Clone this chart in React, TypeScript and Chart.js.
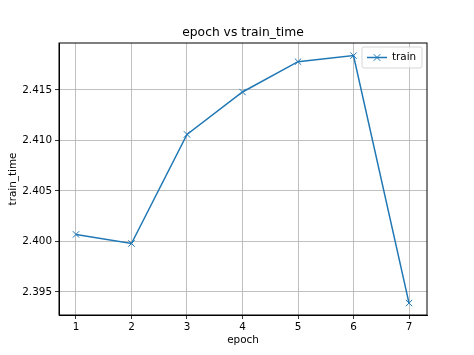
import React, { useEffect, useRef } from "react";
import { Chart, registerables } from "chart.js";

Chart.register(...registerables);

const epochs = [1, 2, 3, 4, 5, 6, 7];
const trainTime = [2.4007, 2.3998, 2.4106, 2.4148, 2.4178, 2.4184, 2.3939];
const xTicks = [1, 2, 3, 4, 5, 6, 7];
const yTicks = [2.395, 2.4, 2.405, 2.41, 2.415];
const titleText = "epoch vs train_time";
const seriesLabel = "train";
const xLabel = "epoch";
const yLabel = "train_time";

const FONT = "DejaVu Sans";
const BLUE = "#1f77b4";

const decorPlugin = {
  id: "decor",
  afterDraw(chart: any) {
    const { ctx, chartArea } = chart;
    ctx.save();
    ctx.strokeStyle = "#000";
    ctx.lineWidth = 1;
    ctx.strokeRect(chartArea.left, chartArea.top, chartArea.right - chartArea.left, chartArea.bottom - chartArea.top);
    ctx.fillStyle = "#000";
    ctx.font = `12.3px "${FONT}"`;
    ctx.textAlign = "center";
    ctx.textBaseline = "middle";
    ctx.fillText(titleText, (chartArea.left + chartArea.right) / 2, 33);
    const bx = chartArea.right - 65, by = chartArea.top + 4, bw = 60, bh = 21;
    ctx.globalAlpha = 0.8;
    ctx.fillStyle = "#fff";
    ctx.strokeStyle = "#cccccc";
    ctx.lineWidth = 1;
    ctx.beginPath();
    (ctx as any).roundRect(bx, by, bw, bh, 2);
    ctx.fill();
    ctx.stroke();
    ctx.globalAlpha = 1;
    const ly = by + bh / 2;
    ctx.strokeStyle = BLUE;
    ctx.lineWidth = 1.5;
    ctx.beginPath();
    ctx.moveTo(bx + 5, ly);
    ctx.lineTo(bx + 25, ly);
    ctx.stroke();
    const mx = bx + 15, r = 3.3;
    ctx.lineWidth = 1;
    ctx.beginPath();
    ctx.moveTo(mx - r, ly - r); ctx.lineTo(mx + r, ly + r);
    ctx.moveTo(mx - r, ly + r); ctx.lineTo(mx + r, ly - r);
    ctx.stroke();
    ctx.fillStyle = "#000";
    ctx.font = `10.4px "${FONT}"`;
    ctx.textAlign = "left";
    ctx.textBaseline = "middle";
    ctx.fillText(seriesLabel, bx + 30, ly);
    ctx.restore();
  },
};

export default function App() {
  const ref = useRef<HTMLCanvasElement>(null);
  useEffect(() => {
    if (!ref.current) return;
    const chart = new Chart(ref.current, {
      type: "line",
      data: {
        datasets: [
          {
            label: seriesLabel,
            data: epochs.map((e, i) => ({ x: e, y: trainTime[i] })),
            borderColor: BLUE,
            backgroundColor: BLUE,
            borderWidth: 1.5,
            pointStyle: "crossRot",
            pointRadius: 4.5,
            pointBorderWidth: 1,
            tension: 0,
          },
        ],
      },
      options: {
        animation: false,
        responsive: true,
        maintainAspectRatio: false,
        layout: { padding: { top: 43, right: 47, left: 0, bottom: 0 } },
        plugins: { legend: { display: false }, title: { display: false }, tooltip: { enabled: false } },
        scales: {
          x: {
            type: "linear",
            min: 0.694,
            max: 7.324,
            afterBuildTicks: (s: any) => { s.ticks = xTicks.map((v) => ({ value: v })); },
            afterFit: (s: any) => { s.height = 40; },
            grid: { color: "#b0b0b0", lineWidth: 0.8, tickColor: "#000", tickLength: 4 },
            border: { display: true, color: "#000", width: 1 },
            ticks: { color: "#000", font: { family: FONT, size: 10.4 }, padding: 2, maxRotation: 0, autoSkip: false },
            title: { display: true, text: xLabel, color: "#000", font: { family: FONT, size: 10.4 }, padding: { top: 0, bottom: 8 } },
          },
          y: {
            type: "linear",
            min: 2.39272,
            max: 2.41965,
            afterBuildTicks: (s: any) => { s.ticks = yTicks.map((v) => ({ value: v })); },
            afterFit: (s: any) => { s.width = 59; },
            grid: { color: "#b0b0b0", lineWidth: 0.8, tickColor: "#000", tickLength: 4 },
            border: { display: true, color: "#000", width: 1 },
            ticks: { color: "#000", font: { family: FONT, size: 10.4 }, padding: 3, callback: (v: any) => Number(v).toFixed(3), autoSkip: false },
            title: { display: true, text: yLabel, color: "#000", font: { family: FONT, size: 10.4 }, padding: { top: 7, bottom: 0 } },
          },
        },
      },
      plugins: [decorPlugin],
    });
    return () => chart.destroy();
  }, []);
  return (
    <div style={{ position: "fixed", left: 0, top: 0, width: 474, height: 355, background: "#fff" }}>
      <canvas ref={ref} />
    </div>
  );
}
